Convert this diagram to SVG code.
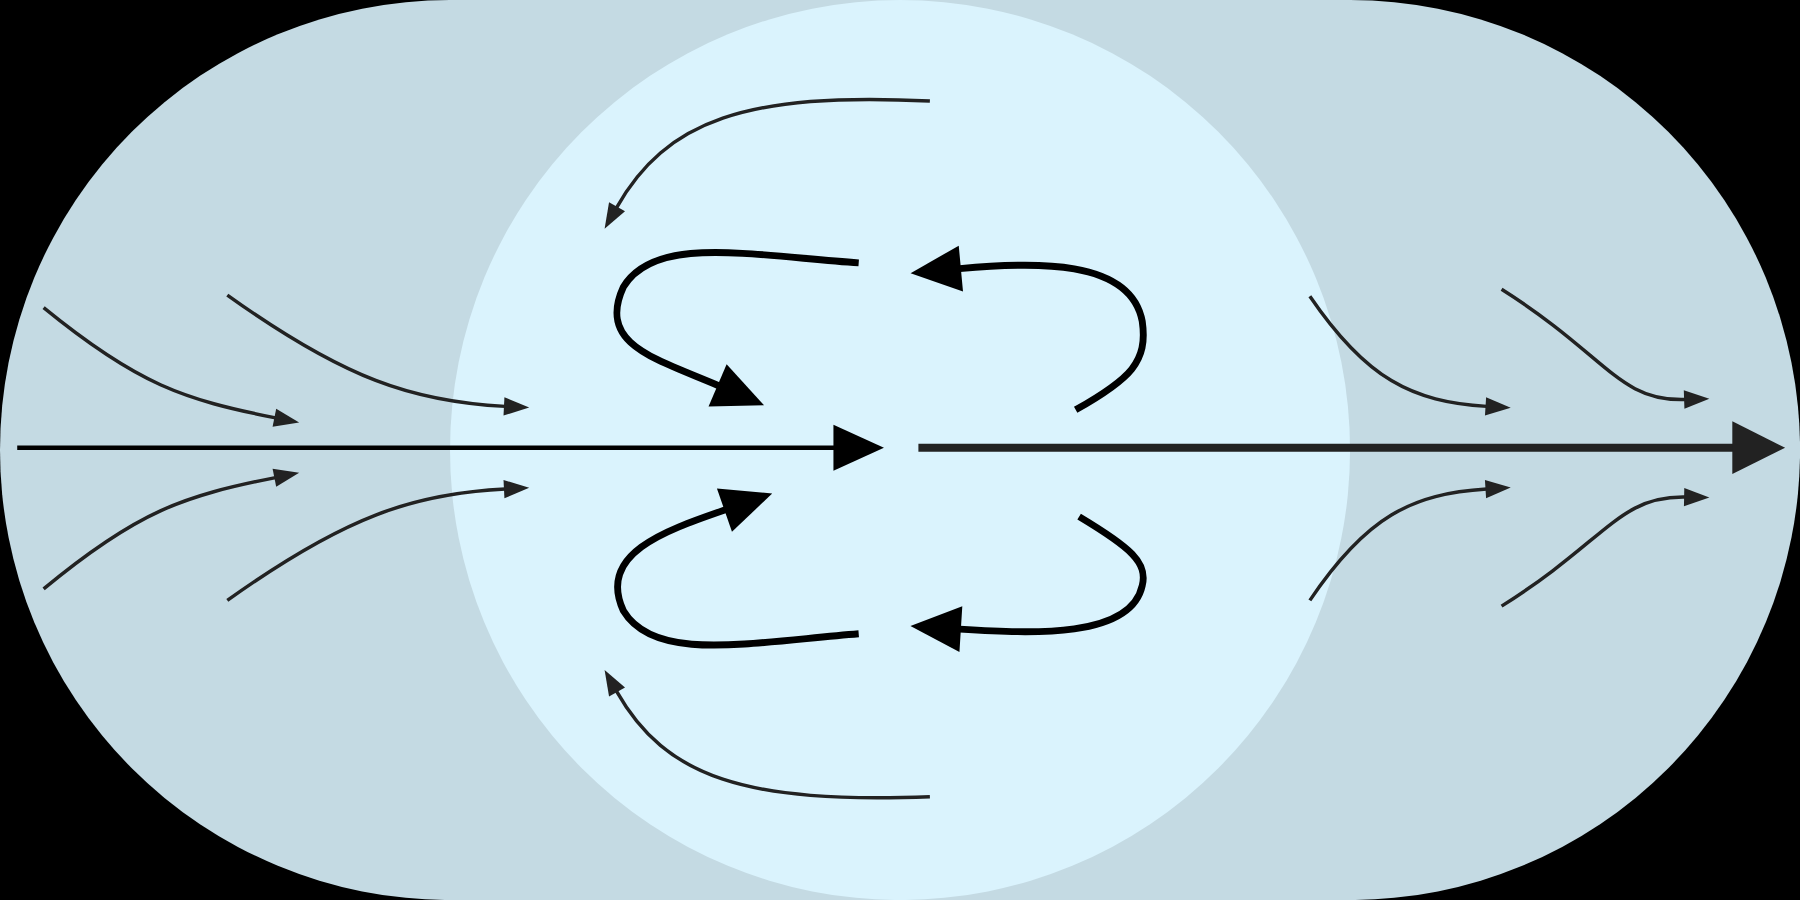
<svg xmlns="http://www.w3.org/2000/svg" width="1800" height="900" viewBox="0 0 1800 900">
<style>
.thin{fill:none;stroke:#222;stroke-width:3}
.thick{fill:none;stroke:#000;stroke-width:6}
</style>
<defs>
<marker id="ms" markerUnits="userSpaceOnUse" markerWidth="24" markerHeight="16" refX="1" refY="8" orient="auto" overflow="visible"><path d="M0,0 L22,8 L0,16 z" fill="#222"/></marker>
<marker id="mm" markerUnits="userSpaceOnUse" markerWidth="50" markerHeight="40" refX="1" refY="20" orient="auto" overflow="visible"><path d="M0,0 L44,20 L0,40 z" fill="#000"/></marker>
<marker id="mb" markerUnits="userSpaceOnUse" markerWidth="50" markerHeight="46" refX="1" refY="23" orient="auto" overflow="visible"><path d="M0,0 L46,23 L0,46 z" fill="#222"/></marker>
</defs>
<rect width="1800" height="900" fill="#000"/>
<g transform="scale(1.148)">
<g id="outer"><rect x="0" y="0" width="1568" height="784" rx="392" fill="#c4dae3"/></g>
<g id="inner"><circle cx="784" cy="392" r="392" fill="#daf3fd"/></g>
<g id="connectors">
<path class="thin" marker-end="url(#ms)" d="M38,268 C120,335 160,348 240,364"/>
<path class="thin" marker-end="url(#ms)" d="M198,257 C300,330 360,350 440,354"/>
<path class="thin" marker-end="url(#ms)" d="M38,513 C120,445 160,432 240,416"/>
<path class="thin" marker-end="url(#ms)" d="M198,523 C300,450 360,430 440,426"/>
<path class="thin" marker-end="url(#ms)" d="M1141,258 C1190,330 1230,350 1295,354"/>
<path class="thin" marker-end="url(#ms)" d="M1308,252 C1400,310 1410,350 1468,348"/>
<path class="thin" marker-end="url(#ms)" d="M1141,523 C1190,450 1230,430 1295,426"/>
<path class="thin" marker-end="url(#ms)" d="M1308,528 C1400,470 1410,432 1468,433"/>
<path class="thin" marker-end="url(#ms)" d="M810,88 C650,80 580,105 537,181"/>
<path class="thin" marker-end="url(#ms)" d="M810,694 C650,700 580,678 537,602"/>
<path fill="none" stroke="#000" stroke-width="4" marker-end="url(#mm)" d="M15,390 L727,390"/>
<path fill="none" stroke="#222" stroke-width="7" marker-end="url(#mb)" d="M800,390 L1510,390"/>
<path class="thick" marker-end="url(#mm)" d="M748,229 C650,222 570,205 543,250 C520,300 570,312 626,336"/>
<path class="thick" marker-end="url(#mm)" d="M937,357 C985,330 1000,315 995,280 C985,225 900,228 836,234"/>
<path class="thick" marker-end="url(#mm)" d="M748,552 C650,560 570,577 543,532 C520,482 580,462 632,444"/>
<path class="thick" marker-end="url(#mm)" d="M940,450 C985,477 1000,490 995,510 C985,556 900,552 836,548"/>
</g>
</g>
</svg>
